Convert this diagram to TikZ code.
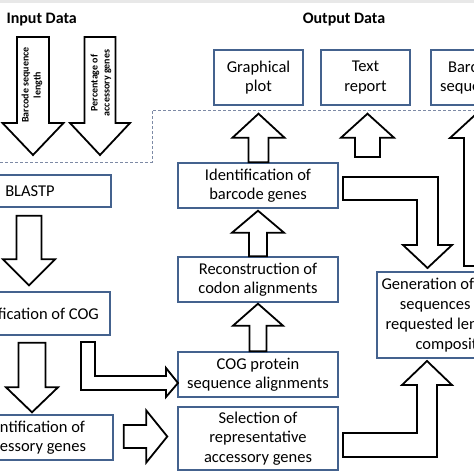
\documentclass[tikz,border=0pt]{standalone}
\usepackage{fontspec}
\setmainfont{Carlito}
\usetikzlibrary{calc}
\definecolor{boxblue}{RGB}{68,98,142}
\definecolor{dashgray}{RGB}{125,138,165}
\definecolor{bandgray}{RGB}{232,232,232}
\tikzset{
  box/.style={draw=boxblue, line width=1.4pt, fill=white, align=center,
              inner sep=0pt, font=\fontsize{16.5}{19.5}\selectfont},
  blockarrow/.style={draw=black, line width=1.8pt, fill=white, line join=miter},
  heading/.style={font=\fontsize{16}{19}\selectfont\bfseries},
  arrowtext/.style={font=\fontsize{10}{12}\selectfont\bfseries, rotate=90, align=center}
}
% straight block arrows: tail, tip, shaft half width, head half width, head length
\newcommand{\downblock}[5]{%
  \draw[blockarrow] let \p1=#1, \p2=#2 in
    (\x2-#3pt,\y1) -- (\x2-#3pt,\y2+#5pt) -- (\x2-#4pt,\y2+#5pt) -- (\x2,\y2)
    -- (\x2+#4pt,\y2+#5pt) -- (\x2+#3pt,\y2+#5pt) -- (\x2+#3pt,\y1) -- cycle;}
\newcommand{\upblock}[5]{%
  \draw[blockarrow] let \p1=#1, \p2=#2 in
    (\x2-#3pt,\y1) -- (\x2-#3pt,\y2-#5pt) -- (\x2-#4pt,\y2-#5pt) -- (\x2,\y2)
    -- (\x2+#4pt,\y2-#5pt) -- (\x2+#3pt,\y2-#5pt) -- (\x2+#3pt,\y1) -- cycle;}
\newcommand{\rightblock}[5]{%
  \draw[blockarrow] let \p1=#1, \p2=#2 in
    (\x1,\y2+#3pt) -- (\x2-#5pt,\y2+#3pt) -- (\x2-#5pt,\y2+#4pt) -- (\x2,\y2)
    -- (\x2-#5pt,\y2-#4pt) -- (\x2-#5pt,\y2-#3pt) -- (\x1,\y2-#3pt) -- cycle;}

\begin{document}
\begin{tikzpicture}[x=1pt,y=-1pt]
  \useasboundingbox (0,0) rectangle (474,474);
  \clip (0,0) rectangle (474,474);
  \fill[bandgray] (0,0) rectangle (474,3);

  % headings
  \node[heading,anchor=west] (inhead) at (3,20) {Input Data};
  \node[heading] (outhead) at (344,20) {Output Data};

  % input / output separator
  \draw[dashgray, densely dashed, line width=0.8pt] (0,162) -- (152,162) -- (152,110) -- (474,110);

  % input arrows
  \coordinate (in1top) at (33,37);  \coordinate (in1tip) at (33,155);
  \coordinate (in2top) at (100,37); \coordinate (in2tip) at (100,155);
  \downblock{(in1top)}{(in1tip)}{16}{30.5}{32}
  \downblock{(in2top)}{(in2tip)}{15.5}{30}{32}
  \node[arrowtext] (in1lbl) at (32,85) {Barcode sequence\\length};
  \node[arrowtext] (in2lbl) at (101,83) {Percentage of\\accessory genes};

  % output boxes
  \node[box, minimum width=89, minimum height=55] (plot) at (258.5,77.5) {Graphical\\plot};
  \node[box, minimum width=89, minimum height=55] (report) at (365.5,77.5) {Text\\report};
  \node[box, minimum width=89, minimum height=55] (barseq) at (475.5,77.5) {Barcode\\sequences};

  % left column
  \node[box, minimum width=162, minimum height=32] (blastp) at (30,191) {BLASTP};
  \node[box, minimum width=162, minimum height=43] (cog) at (29,313.5) {Identification of COG};
  \node[box, minimum width=162, minimum height=45] (acc) at (32,437.5) {Identification of\\accessory genes};

  % middle column
  \node[box, minimum width=160, minimum height=45] (ident) at (258,185.5) {Identification of\\barcode genes};
  \node[box, minimum width=160, minimum height=45] (recon) at (258,279.5) {Reconstruction of\\codon alignments};
  \node[box, minimum width=160, minimum height=45] (cogaln) at (258,374.5) {COG protein\\sequence alignments};
  \node[box, minimum width=160, minimum height=63] (select) at (258,438.5) {Selection of\\representative\\accessory genes};

  % right column
  \node[box, minimum width=160, minimum height=86, font=\fontsize{16.5}{20}\selectfont] (gen) at (457,315)
    {Generation of barcode\\sequences of the\\requested length and\\composition};

  % straight arrows
  \downblock{([yshift=-8pt]blastp.south)}{([yshift=6pt]cog.north)}{12.5}{26}{26}
  \downblock{([yshift=-7pt]cog.south)}{([yshift=2pt]acc.north)}{13.5}{26}{25}
  \upblock{(cogaln.north)}{([yshift=-1pt]recon.south)}{8.5}{25}{22}
  \upblock{(recon.north)}{([yshift=-2pt]ident.south)}{9}{26}{22}
  \upblock{(ident.north)}{([yshift=-8pt]plot.south)}{10}{26}{24}
  \coordinate (reptail) at (367,157);
  \upblock{(reptail)}{([yshift=-8pt,xshift=2pt]report.south)}{12.5}{26.5}{24}
  \rightblock{([xshift=10pt]acc.east)}{([xshift=-10pt,yshift=2pt]select.west)}{11.5}{26}{21}

  % bent arrows
  \draw[blockarrow] (81,342) -- (95,342) -- (95,376) -- (166,376) -- (166,368) -- (178,383)
    -- (166,397) -- (166,390) -- (81,390) -- cycle;
  \draw[blockarrow] (343,177) -- (438,177) -- (438,245) -- (452,245) -- (427.5,268)
    -- (403,245) -- (417,245) -- (417,200) -- (343,200) -- cycle;
  \draw[blockarrow] (343,433) -- (417,433) -- (417,385) -- (402,385) -- (427,361)
    -- (452,385) -- (437,385) -- (437,457) -- (343,457) -- cycle;
  \draw[blockarrow] (500,266) -- (464,266) -- (464,138) -- (450,138) -- (475,115)
    -- (500,138) -- (486,138) -- (486,244) -- (500,244) -- cycle;
\end{tikzpicture}
\end{document}
